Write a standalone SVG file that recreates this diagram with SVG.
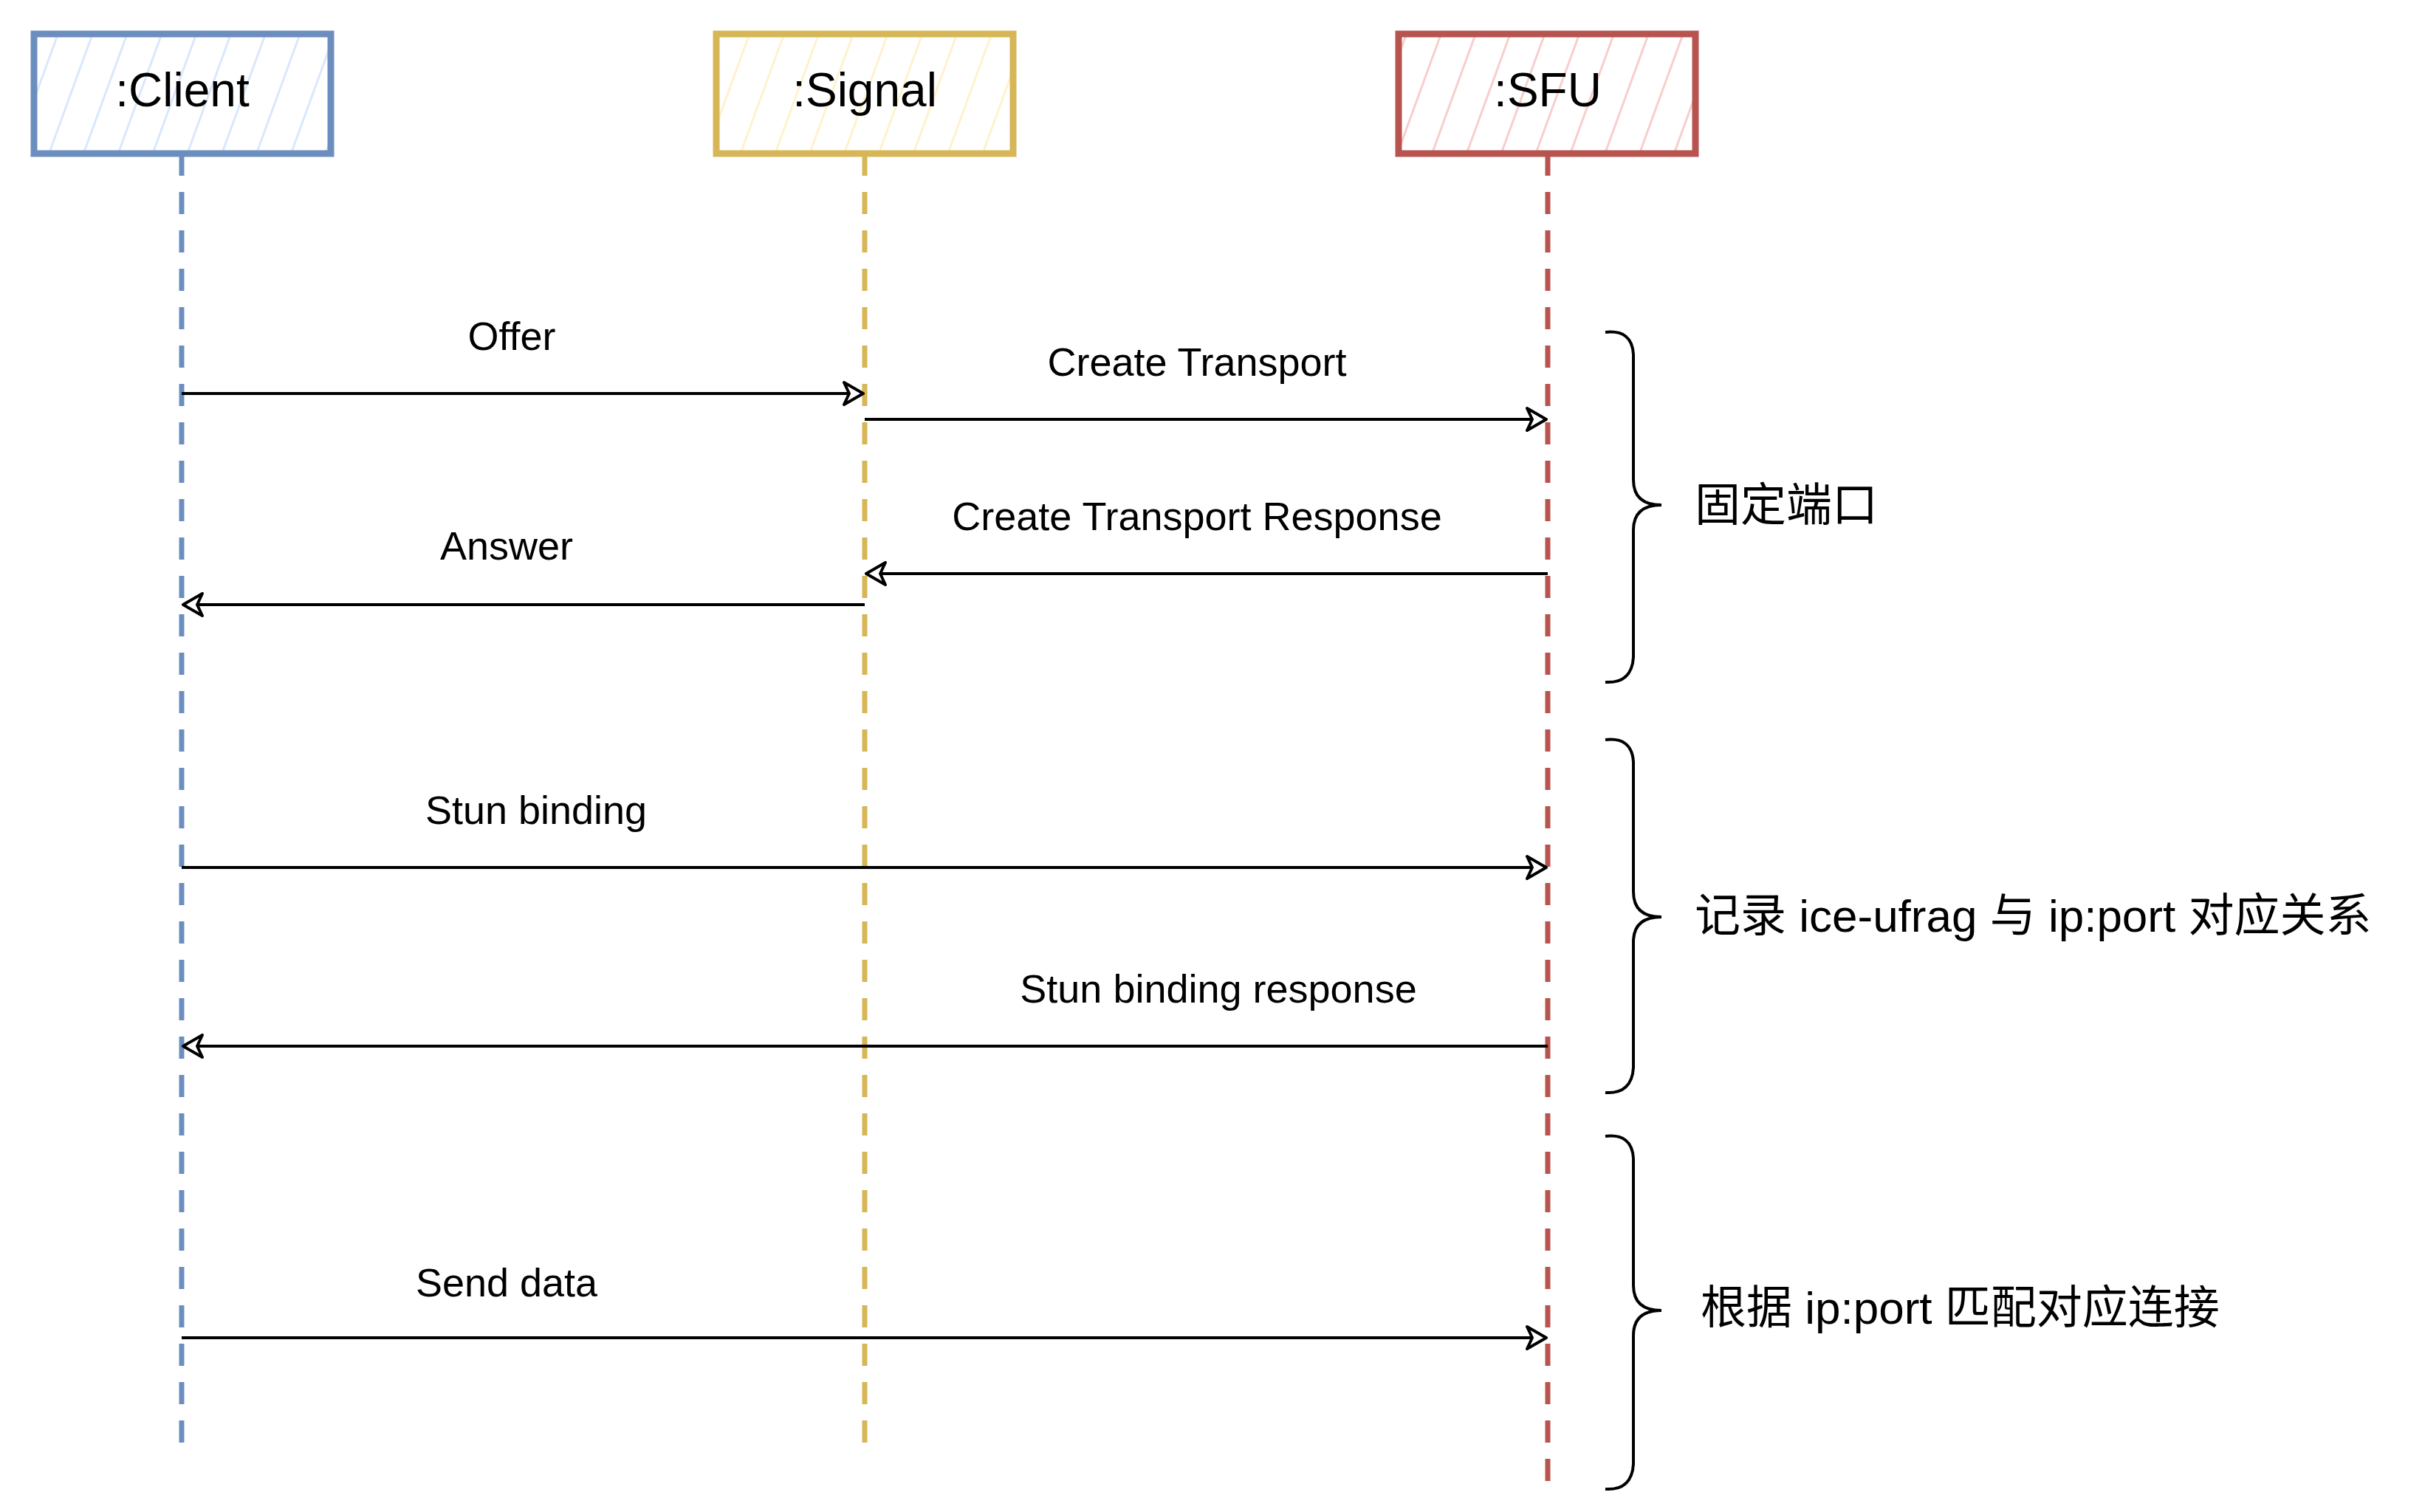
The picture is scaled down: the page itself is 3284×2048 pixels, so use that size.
<svg xmlns="http://www.w3.org/2000/svg" width="3284" height="2048" viewBox="0 0 3284 2048">
<style>
.lbl{font-family:"Liberation Sans",Arial,sans-serif;font-size:54px;fill:#000;text-anchor:middle;dominant-baseline:central}
.hd{font-family:"Liberation Sans",Arial,sans-serif;font-size:64px;fill:#000;text-anchor:middle;dominant-baseline:central}
.cn{font-family:"Liberation Sans","Noto Sans CJK SC",sans-serif;font-size:62px;fill:#000;dominant-baseline:central}
.msg{stroke:#000;stroke-width:4;fill:none;marker-end:url(#arr)}
.life{stroke-width:7;stroke-dasharray:30 22;fill:none}
.brace{stroke:#000;stroke-width:4;fill:none}
</style>
<defs>
<marker id="arr" markerWidth="34" markerHeight="34" refX="30" refY="17" orient="auto" markerUnits="userSpaceOnUse" viewBox="0 0 34 34">
<path d="M4,2 L30,17 L4,32 L11,17 Z" fill="#fff" stroke="#000" stroke-width="4" stroke-linejoin="round"/>
</marker>
<pattern id="hb" width="44" height="44" patternUnits="userSpaceOnUse" patternTransform="rotate(20)"><line x1="0" y1="0" x2="0" y2="44" stroke="#dae8fc" stroke-width="6"/></pattern>
<pattern id="hy" width="44" height="44" patternUnits="userSpaceOnUse" patternTransform="rotate(20)"><line x1="0" y1="0" x2="0" y2="44" stroke="#fff2cc" stroke-width="6"/></pattern>
<pattern id="hr" width="44" height="44" patternUnits="userSpaceOnUse" patternTransform="rotate(20)"><line x1="0" y1="0" x2="0" y2="44" stroke="#f8cecc" stroke-width="6"/></pattern>
</defs>
<rect width="3284" height="2048" fill="#fff"/>
<g id="client">
<rect x="46" y="46" width="402" height="162" fill="url(#hb)" stroke="#6c8ebf" stroke-width="9"/>
<text class="hd" x="247" y="122">:Client</text>
<line class="life" x1="246" y1="208" x2="246" y2="1968" stroke="#6c8ebf"/>
</g>
<g id="signal">
<rect x="970" y="46" width="402" height="162" fill="url(#hy)" stroke="#d6b656" stroke-width="9"/>
<text class="hd" x="1171" y="122">:Signal</text>
<line class="life" x1="1171" y1="208" x2="1171" y2="1968" stroke="#d6b656"/>
</g>
<g id="sfu">
<rect x="1894" y="46" width="402" height="162" fill="url(#hr)" stroke="#b85450" stroke-width="9"/>
<text class="hd" x="2096" y="122">:SFU</text>
<line class="life" x1="2096" y1="208" x2="2096" y2="2021" stroke="#b85450"/>
</g>
<g id="connectors">
<line class="msg" x1="246" y1="533" x2="1169" y2="533"/>
<line class="msg" x1="1171" y1="568" x2="2094" y2="568"/>
<line class="msg" x1="2096" y1="777" x2="1173" y2="777"/>
<line class="msg" x1="1171" y1="819" x2="248" y2="819"/>
<line class="msg" x1="246" y1="1175" x2="2094" y2="1175"/>
<line class="msg" x1="2096" y1="1417" x2="248" y2="1417"/>
<line class="msg" x1="246" y1="1812" x2="2094" y2="1812"/>
</g>
<g id="labels">
<text class="lbl" x="693" y="455">Offer</text>
<text class="lbl" x="1621" y="490">Create Transport</text>
<text class="lbl" x="1621" y="699">Create Transport Response</text>
<text class="lbl" x="686" y="739">Answer</text>
<text class="lbl" x="726" y="1097">Stun binding</text>
<text class="lbl" x="1650" y="1339">Stun binding response</text>
<text class="lbl" x="686" y="1737">Send data</text>
</g>
<g id="brace1">
<path class="brace" d="M2174,450 Q2210,446 2212,480 L2212,650 Q2212,684 2250,684 Q2212,684 2212,718 L2212,890 Q2210,926 2174,924"/>
<text class="cn" x="2295" y="684">固定端口</text>
</g>
<g id="brace2">
<path class="brace" d="M2174,1002 Q2210,998 2212,1032 L2212,1208 Q2212,1242 2250,1242 Q2212,1242 2212,1276 L2212,1446 Q2210,1482 2174,1480"/>
<text class="cn" x="2295" y="1240">记录 ice-ufrag 与 ip:port 对应关系</text>
</g>
<g id="brace3">
<path class="brace" d="M2174,1539 Q2210,1535 2212,1569 L2212,1741 Q2212,1775 2250,1775 Q2212,1775 2212,1809 L2212,1983 Q2210,2019 2174,2017"/>
<text class="cn" x="2303" y="1771">根据 ip:port 匹配对应连接</text>
</g>
</svg>
